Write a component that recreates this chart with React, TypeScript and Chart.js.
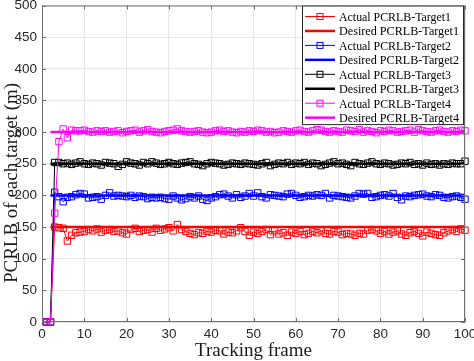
import React, { useEffect, useRef } from "react";
import { Chart, registerables } from "chart.js";

Chart.register(...registerables);

const frames: number[] = Array.from({ length: 100 }, (_, i) => i + 1);

const actual1: number[] = [
  0, 0, 150, 149, 148, 128, 137, 141, 142, 143,
  146, 144, 147, 142, 145, 146, 143, 144, 141, 139,
  146, 148, 143, 145, 146, 142, 148, 145, 147, 149,
  144, 154, 146, 143, 140, 138, 141, 140, 143, 142,
  145, 144, 139, 142, 141, 144, 149, 143, 137, 142,
  140, 143, 146, 138, 144, 139, 141, 137, 142, 140,
  143, 138, 140, 143, 141, 144, 140, 139, 143, 142,
  138, 140, 139, 137, 140, 139, 145, 146, 144, 140,
  143, 139, 142, 144, 139, 137, 141, 143, 140, 136,
  142, 140, 138, 137, 141, 144, 146, 143, 147, 145,
];
const actual2: number[] = [
  0, 0, 205, 198, 190, 197, 198, 201, 203, 202,
  196, 197, 198, 194, 200, 204, 199, 200, 199, 198,
  200, 197, 199, 198, 195, 197, 196, 197, 195, 194,
  199, 196, 193, 195, 198, 196, 199, 194, 192, 196,
  198, 201, 202, 199, 196, 201, 197, 199, 203, 199,
  204, 198, 196, 201, 200, 199, 198, 202, 203, 200,
  197, 198, 200, 199, 201, 200, 203, 196, 200, 199,
  198, 197, 196, 199, 203, 202, 203, 197, 198, 200,
  201, 199, 203, 197, 193, 199, 198, 200, 201, 202,
  199, 198, 201, 200, 197, 196, 198, 199, 197, 194,
];
const actual3: number[] = [
  0, 0, 252, 252, 250, 251, 249, 251, 253, 250,
  249, 251, 250, 248, 252, 251, 250, 246, 249, 253,
  251, 250, 248, 252, 250, 253, 251, 249, 250, 252,
  250, 249, 251, 252, 253, 250, 249, 247, 250, 252,
  251, 250, 248, 249, 251, 250, 249, 251, 250, 249,
  248, 250, 252, 247, 249, 251, 250, 252, 249, 251,
  250, 252, 249, 251, 250, 247, 249, 251, 253, 250,
  251, 249, 247, 252, 250, 249, 251, 253, 250, 249,
  251, 250, 248, 249, 251, 250, 252, 249, 250, 248,
  251, 249, 250, 248, 250, 249, 251, 250, 250, 254,
];
const actual4: number[] = [
  0, 0, 172, 285, 305, 291, 303, 302, 302, 303,
  301, 300, 302, 301, 302, 300, 301, 302, 299, 301,
  302, 303, 300, 302, 304, 301, 300, 299, 301, 302,
  303, 305, 302, 301, 300, 301, 302, 300, 299, 300,
  302, 303, 301, 302, 300, 299, 301, 300, 302, 301,
  303, 302, 300, 301, 299, 300, 302, 301, 300, 302,
  303, 301, 300, 302, 304, 303, 301, 300, 302, 301,
  300, 303, 302, 301, 304, 300, 302, 301, 299, 302,
  301, 303, 302, 300, 301, 302, 303, 300, 304, 302,
  301, 300, 302, 303, 301, 300, 302, 301, 303, 302,
];
const desiredLevels: number[] = [150, 200, 250, 300];
const desiredStart = 2;
const desiredEnd = 100;
const colors: string[] = ["#ff0000", "#0000ff", "#000000", "#ff00ff"];
const legendLabels: string[] = [
  "Actual PCRLB-Target1",
  "Desired PCRLB-Target1",
  "Actual PCRLB-Target2",
  "Desired PCRLB-Target2",
  "Actual PCRLB-Target3",
  "Desired PCRLB-Target3",
  "Actual PCRLB-Target4",
  "Desired PCRLB-Target4",
];
const xTitle = "Tracking frame";
const yTitle = "PCRLB of each target (m)";

const SERIF = "'Liberation Serif', 'Times New Roman', serif";
const SANS = "'Liberation Sans', Arial, sans-serif";
const AXIS_COLOR = "#6e6e6e";

const decorPlugin = {
  id: "decor",
  afterDraw(chart: any) {
    const { ctx, chartArea: a, scales } = chart;
    const xs = scales.x;
    const ys = scales.y;
    ctx.save();
    ctx.strokeStyle = AXIS_COLOR;
    ctx.lineWidth = 1;
    ctx.strokeRect(a.left + 0.5, a.top + 0.5, a.right - a.left - 1, a.bottom - a.top - 1);
    const tl = 4;
    ctx.beginPath();
    for (let v = 0; v <= 500; v += 50) {
      const y = Math.round(ys.getPixelForValue(v)) + 0.5;
      ctx.moveTo(a.left, y);
      ctx.lineTo(a.left + tl, y);
      ctx.moveTo(a.right, y);
      ctx.lineTo(a.right - tl, y);
    }
    for (let v = 0; v <= 100; v += 10) {
      const x = Math.round(xs.getPixelForValue(v)) + 0.5;
      ctx.moveTo(x, a.bottom);
      ctx.lineTo(x, a.bottom - tl);
      ctx.moveTo(x, a.top);
      ctx.lineTo(x, a.top + tl);
    }
    ctx.stroke();

    ctx.fillStyle = "#1a1a1a";
    ctx.font = `19px ${SERIF}`;
    ctx.textAlign = "center";
    ctx.textBaseline = "middle";
    ctx.fillText(xTitle, (a.left + a.right) / 2, 351);
    ctx.save();
    ctx.translate(12, 183);
    ctx.rotate(-Math.PI / 2);
    ctx.fillText(yTitle, 0, 0);
    ctx.restore();

    const boxL = 302;
    const boxR = a.right - 1;
    const boxT = a.top;
    const rowH = 14.45;
    const boxB = boxT + rowH * 8 + 4;
    ctx.fillStyle = "#ffffff";
    ctx.fillRect(boxL, boxT, boxR - boxL, boxB - boxT);
    ctx.strokeStyle = "#262626";
    ctx.lineWidth = 1;
    ctx.strokeRect(boxL + 0.5, boxT + 0.5, boxR - boxL - 1, boxB - boxT - 1);
    ctx.font = `13.5px ${SERIF}`;
    ctx.textAlign = "left";
    ctx.textBaseline = "middle";
    legendLabels.forEach((lab, i) => {
      const cy = boxT + 11 + i * rowH;
      const c = colors[Math.floor(i / 2)];
      const isActual = i % 2 === 0;
      ctx.strokeStyle = c;
      ctx.lineWidth = isActual ? 1 : 2.5;
      ctx.beginPath();
      ctx.moveTo(305, cy);
      ctx.lineTo(335, cy);
      ctx.stroke();
      if (isActual) {
        ctx.lineWidth = 1;
        ctx.strokeRect(317, cy - 3, 6, 6);
      }
      ctx.fillStyle = "#000000";
      const maxW = i % 2 === 0 ? 112 : 120;
      ctx.fillText(lab, 339, cy + 1, maxW);
    });
    ctx.restore();
  },
};

export default function App() {
  const ref = useRef<HTMLCanvasElement | null>(null);
  useEffect(() => {
    if (!ref.current) return;
    const actuals = [actual1, actual2, actual3, actual4];
    const datasets: any[] = [];
    actuals.forEach((arr, k) => {
      datasets.push({
        label: legendLabels[k * 2],
        data: frames.map((f, i) => ({ x: f, y: arr[i] })),
        borderColor: colors[k],
        backgroundColor: "transparent",
        borderWidth: 1,
        pointStyle: "rect",
        pointRadius: 4.5,
        pointBorderWidth: 1,
        pointBorderColor: colors[k],
        pointBackgroundColor: "transparent",
        clip: false,
        order: 20 - k * 2,
      });
      datasets.push({
        label: legendLabels[k * 2 + 1],
        data: [
          { x: desiredStart, y: desiredLevels[k] },
          { x: desiredEnd, y: desiredLevels[k] },
        ],
        borderColor: colors[k],
        backgroundColor: "transparent",
        borderWidth: 2.5,
        pointRadius: 0,
        clip: false,
        order: 19 - k * 2,
      });
    });
    const chart = new Chart(ref.current, {
      type: "line",
      data: { datasets },
      plugins: [decorPlugin],
      options: {
        animation: false,
        responsive: false,
        maintainAspectRatio: false,
        layout: { padding: { left: 0, right: 9, top: 3, bottom: 0 } },
        plugins: { legend: { display: false }, tooltip: { enabled: false } },
        elements: { line: { tension: 0 } },
        scales: {
          x: {
            type: "linear",
            min: 0,
            max: 100,
            ticks: { stepSize: 10, color: "#262626", font: { family: SANS, size: 13.5 }, padding: 4, maxRotation: 0 },
            grid: { color: "#e6e6e6", drawTicks: false },
            border: { display: false },
            afterFit: (s: any) => { s.height = 39; s.paddingLeft = 0; s.paddingRight = 0; },
          },
          y: {
            type: "linear",
            min: 0,
            max: 500,
            ticks: { stepSize: 50, color: "#262626", font: { family: SANS, size: 13.5 }, padding: 5 },
            grid: { color: "#e6e6e6", drawTicks: false },
            border: { display: false },
            afterFit: (s: any) => { s.width = 42; s.paddingTop = 0; s.paddingBottom = 0; },
          },
        },
      },
    });
    return () => chart.destroy();
  }, []);
  return (
    <div style={{ position: "fixed", left: 0, top: 0, width: 474, height: 361, background: "#fff" }}>
      <canvas ref={ref} width={474} height={361} style={{ width: 474, height: 361 }} />
    </div>
  );
}
